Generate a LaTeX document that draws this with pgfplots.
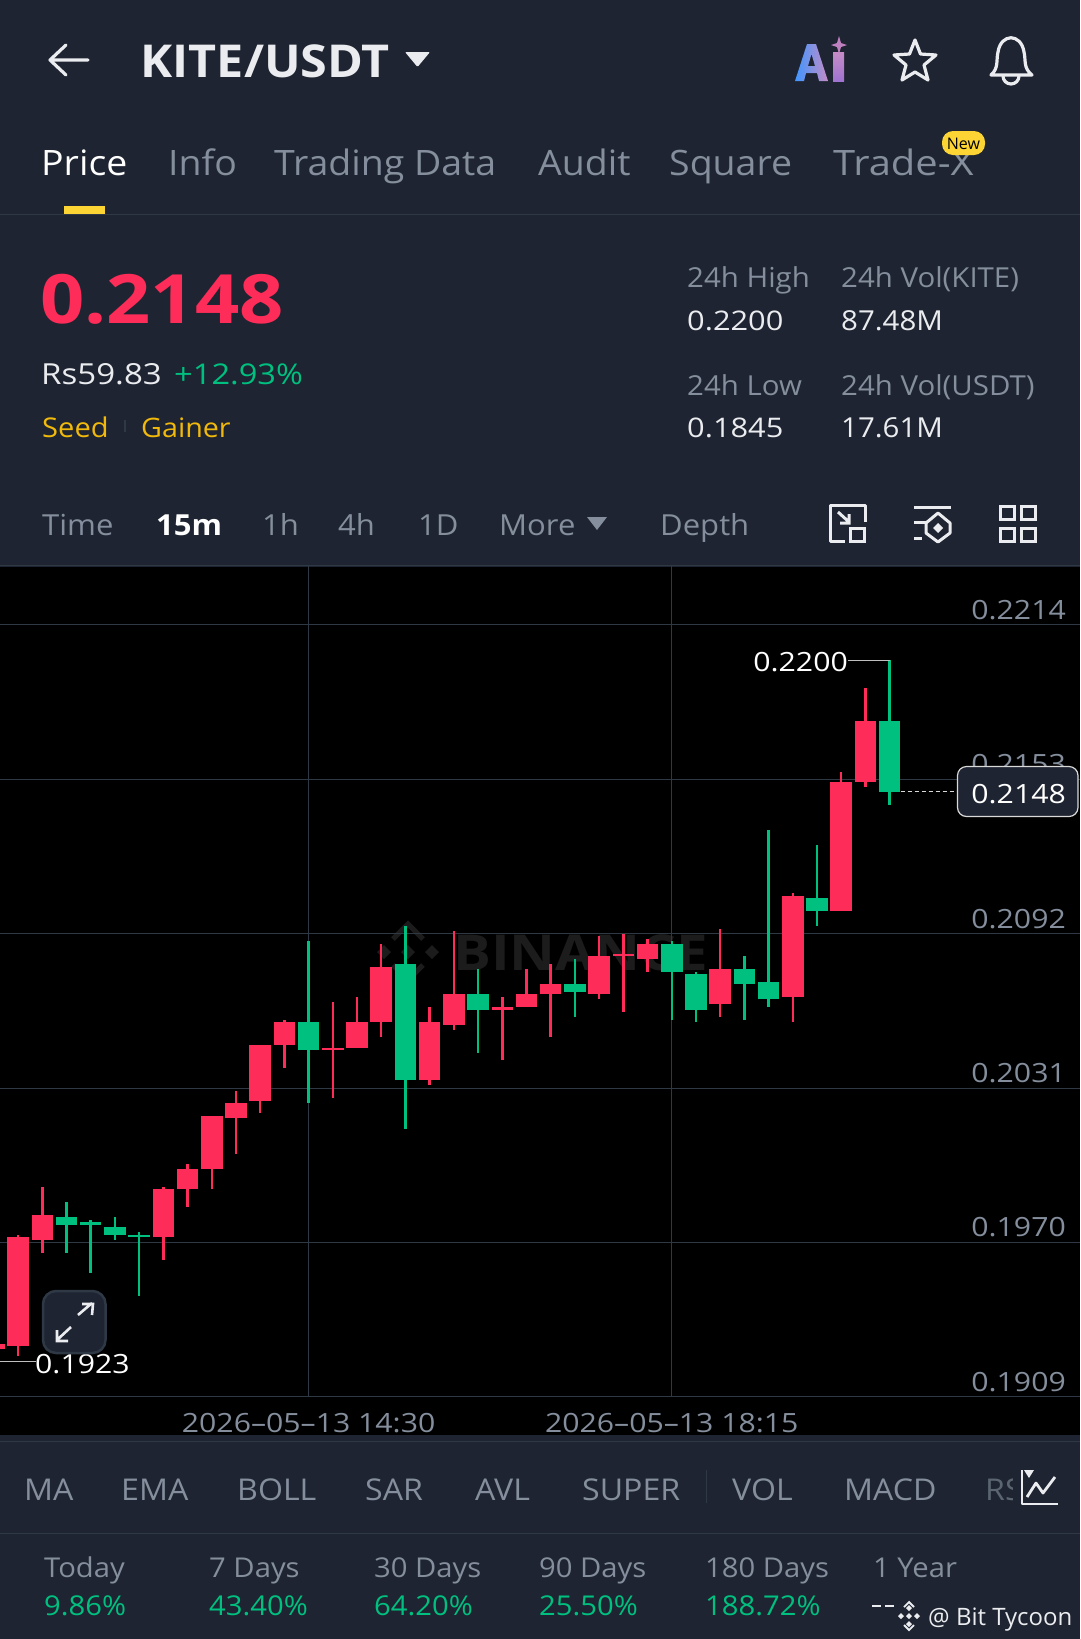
\documentclass[border=0pt]{standalone}
\usepackage{fontspec}
\usepackage{pgfplots}
\usepackage{pgfplotstable}
\pgfplotsset{compat=1.18}
\setmainfont[FakeStretch=1.07]{Open Sans}
\newfontfamily\wide[FakeStretch=1.14]{Open Sans}
\newfontfamily\plain{Open Sans}
\definecolor{bg}{HTML}{1E2431}
\definecolor{gridc}{HTML}{2F3845}
\definecolor{up}{HTML}{FE2C58}
\definecolor{dn}{HTML}{00C07F}
\definecolor{gr}{HTML}{848E9C}
\definecolor{wh}{HTML}{EAECEF}
\definecolor{yl}{HTML}{FCD535}
\definecolor{og}{HTML}{F0B90B}
\definecolor{wm}{HTML}{1C1C1C}
\pgfplotstableread{
x low bot top high
-13 .1928 .1928 .1930 .1930
-12 .1925 .1929 .1972 .1973
-11 .1966 .1971 .1981 .1992
-6 .1963 .1972 .1991 .1992
-5 .1984 .1991 .1999 .2001
-4 .1991 .1999 .2020 .2020
-3 .2005 .2019 .2025 .2030
-2 .2021 .2026 .2048 .2048
-1 .2039 .2048 .2057 .2058
1 .2027 .2046 .2047 .2065
2 .2047 .2047 .2057 .2067
3 .2051 .2057 .2079 .2088
5 .2032 .2034 .2057 .2063
6 .2054 .2056 .2068 .2093
8 .2042 .2062 .2063 .2067
9 .2063 .2063 .2068 .2078
10 .2051 .2068 .2072 .2080
12 .2066 .2068 .2083 .2091
13 .2061 .2083 .2084 .2092
14 .2077 .2082 .2088 .2090
17 .2059 .2064 .2078 .2094
20 .2057 .2067 .2107 .2108
22 .2101 .2101 .2152 .2156
23 .2150 .2152 .2176 .2189
}\redcandles
\pgfplotstableread{
x low bot top high
-10 .1966 .1977 .1980 .1986
-9 .1958 .1977 .1978 .1979
-8 .1971 .1973 .1976 .1980
-7 .1949 .1972 .1973 .1974
0 .2025 .2046 .2057 .2089
4 .2015 .2034 .2080 .2095
7 .2045 .2062 .2068 .2078
11 .2059 .2069 .2072 .2082
15 .2058 .2077 .2088 .2089
16 .2057 .2062 .2076 .2077
18 .2058 .2072 .2078 .2083
19 .2063 .2066 .2073 .2133
21 .2095 .2101 .2106 .2127
24 .2143 .2148 .2176 .2200
}\greencandles
% x y(top-down) anchor size colour text
\newcommand\T[6]{\node[anchor=#3,inner sep=0pt,text=#5,font=\fontsize{#4}{#4}\selectfont] at (#1pt,-#2pt) {#6};}
\newcommand\candles[2]{%
 \addplot[draw=none,mark=none,forget plot,error bars/.cd,y dir=plus,y explicit,error mark=none,
   error bar style={line width=2.5pt,color=#2}] table[x=x,y=low,y error expr=\thisrow{high}-\thisrow{low}] {#1};
 \addplot[draw=none,mark=none,forget plot,error bars/.cd,y dir=plus,y explicit,error mark=none,
   error bar style={line width=21.5pt,color=#2}] table[x=x,y=bot,y error expr=\thisrow{top}-\thisrow{bot}] {#1};
}
\begin{document}
\begin{tikzpicture}[x=1pt,y=1pt]
\path[use as bounding box] (0,0) rectangle (1080,-1639);
\fill[bg] (0,0) rectangle (1080,-1639);
\fill[black] (0,-567) rectangle (1080,-1435);
\draw[gridc,line width=1pt] (0,-214.5)--(1080,-214.5);
\draw[gridc,line width=1pt] (0,-565)--(1080,-565);
\draw[gridc,line width=1pt] (0,-1441)--(1080,-1441);
\draw[gridc,line width=1pt] (0,-1533)--(1080,-1533);
% header
\draw[wh,line width=3.2pt,line cap=round,line join=round] (88,-60)--(50,-60) (66,-45)--(50,-60)--(66,-75);
\T{140.5}{77}{base west}{45.3}{wh}{\bfseries KITE/USDT}
\fill[wh,rounded corners=1pt] (405,-52)--(430,-52)--(417.5,-67)--cycle;
\shade[left color=blue!55!cyan!75!white,right color=violet!45!white,even odd rule]
  (795,-81)--(807,-44)--(816,-44)--(828,-81)--(819,-81)--(817,-73)--(806,-73)--(804,-81)--cycle
  (808,-66)--(815,-66)--(811.5,-54)--cycle;
\shade[top color=violet!45!white,bottom color=blue!35!violet!55!white] (833,-52) rectangle (844,-81);
\fill[violet!50!white] (839,-36)--(841,-43)--(847,-45)--(841,-47)--(839,-54)--(837,-47)--(831,-45)--(837,-43)--cycle;
\draw[wh,line width=3.2pt,line join=round] (915,-40)--(920.5,-54)--(936,-55)--(924,-65)--(928,-80)--(915,-72)--(902,-80)--(906,-65)--(894,-55)--(909.5,-54)--cycle;
\draw[wh,line width=3.2pt,line join=round,line cap=round] (991,-75) .. controls (999,-68) and (996,-60) .. (998,-52) .. controls (1001,-33) and (1021,-33) .. (1024,-52) .. controls (1026,-60) and (1023,-68) .. (1032,-75) -- cycle;
\draw[wh,line width=3.2pt] (1003,-76) arc[start angle=180,end angle=360,radius=8];
% tabs
\T{41}{175.5}{base west}{35}{white}{Price}
\T{168}{175.5}{base west}{35}{gr}{Info}
\T{274}{175.5}{base west}{35}{gr}{Trading Data}
\T{538}{175.5}{base west}{35}{gr}{Audit}
\T{669}{175.5}{base west}{35}{gr}{Square}
\T{833}{175.5}{base west}{35}{gr}{\wide Trade-X}
\fill[yl] (942,-131) [rounded corners=11pt] rectangle (985,-155);
\T{963.5}{149}{base}{16}{black}{\plain New}
\fill[yl] (64,-206) rectangle (105,-214);
% price panel
\T{40}{323.6}{base west}{68}{up}{\wide\bfseries 0.2148}
\T{41}{384.7}{base west}{29}{wh}{\wide Rs59.83}
\T{174}{384.7}{base west}{28.6}{dn}{\wide +12.93\%}
\T{42}{437}{base west}{27.2}{og}{Seed}
\fill[gridc] (124,-420) rectangle (125.5,-432);
\T{141}{437}{base west}{26.8}{og}{Gainer}
\T{687}{287.5}{base west}{27.5}{gr}{24h High}
\T{841}{287.5}{base west}{27.5}{gr}{24h Vol(KITE)}
\T{687}{330}{base west}{27}{wh}{\wide 0.2200}
\T{841}{330}{base west}{27.5}{wh}{87.48M}
\T{687}{395.5}{base west}{27.5}{gr}{24h Low}
\T{841}{395.5}{base west}{27.5}{gr}{24h Vol(USDT)}
\T{687}{437.5}{base west}{27}{wh}{\wide 0.1845}
\T{841}{437.5}{base west}{27.5}{wh}{17.61M}
% interval row
\T{42}{535.5}{base west}{29}{gr}{Time}
\T{156}{535.5}{base west}{29}{white}{\bfseries 15m}
\T{262}{535.5}{base west}{29}{gr}{1h}
\T{338}{535.5}{base west}{29}{gr}{4h}
\T{418}{535.5}{base west}{29}{gr}{1D}
\T{499}{535.5}{base west}{29}{gr}{More}
\fill[gr] (587,-517)--(607,-517)--(597,-530)--cycle;
\T{660}{535.5}{base west}{29}{gr}{Depth}
\draw[wh,line width=3pt,line join=round] (865,-522)--(865,-505)--(830,-505)--(830,-541)--(845,-541);
\draw[wh,line width=3pt] (850,-528) rectangle (864,-541);
\draw[wh,line width=3pt] (838,-512)--(849,-522) (849,-514)--(849,-523)--(840,-523);
\draw[wh,line width=3pt] (914,-507)--(951,-507) (914,-522)--(926,-522) (914,-538)--(922,-538);
\draw[wh,line width=3pt,line join=round] (938,-513)--(950,-523)--(950,-533)--(938,-542)--(926,-533)--(926,-523)--cycle;
\fill[wh] (938,-523)--(943,-528)--(938,-533)--(933,-528)--cycle;
\foreach \xa/\ya in {1000/-506,1021/-506,1000/-528,1021/-528}{\draw[wh,line width=3pt] (\xa,\ya) rectangle ++(14,-13);}
% watermark
\begin{scope}[shift={(408,-952)}]
\foreach \dx/\dy in {-24/0,24/0}{\fill[wm] (\dx,\dy+7)--(\dx+7,\dy)--(\dx,\dy-7)--(\dx-7,\dy)--cycle;}
\fill[wm] (0,7)--(7,0)--(0,-7)--(-7,0)--cycle;
\draw[wm,line width=5pt] (-15,13)--(0,28)--(15,13) (-15,-13)--(0,-28)--(15,-13);
\end{scope}
\T{453}{970}{base west}{49.5}{wm}{\wide\bfseries BINANCE}
% chart
\begin{axis}[
  at={(0pt,-1396.8pt)},anchor=south west,
  scale only axis,width=1080pt,height=830.8pt,
  xmin=-12.747,xmax=31.863,ymin=0.1909,ymax=0.223724,
  axis line style={draw=none},tick style={draw=none},
  grid=major,grid style={gridc,line width=1pt},
  xtick={0,15},xticklabels={2026–05–13 14:30,2026–05–13 18:15},
  ytick={0.1909,0.1970,0.2031,0.2092,0.2153,0.2214},
  yticklabels={0.1909,0.1970,0.2031,0.2092,0.2153,0.2214},
  yticklabel pos=right,
  xticklabel style={anchor=base,inner sep=0pt,yshift=-35.2pt,text=gr,font=\wide\fontsize{26.5}{26.5}\selectfont},
  yticklabel style={anchor=base east,inner sep=0pt,xshift=-14pt,yshift=5.6pt,text=gr,font=\wide\fontsize{26.5}{26.5}\selectfont},
  clip=true,
]
\candles{\redcandles}{up}
\candles{\greencandles}{dn}
\addplot[forget plot,color=white!75!black,line width=1.3pt] coordinates {(22.28,0.2200)(24,0.2200)};
\addplot[forget plot,color=white!75!black,line width=1.3pt] coordinates {(-13,0.1923)(-11.26,0.1923)};
\addplot[forget plot,color=white!85!black,line width=1.2pt,dash pattern=on 4pt off 3pt] coordinates {(24.45,0.2148)(26.8,0.2148)};
\end{axis}
% chart overlays
\T{848}{671}{base east}{26.5}{white}{\wide 0.2200}
\T{35}{1373}{base west}{26.5}{white}{\wide 0.1923}
\draw[white!85!black,line width=1.2pt,fill=bg,rounded corners=9pt] (957.5,-766.5) rectangle (1078,-816.5);
\T{1066}{803.5}{base east}{26.5}{white}{\wide 0.2148}
\draw[gridc,line width=2.5pt,fill=bg,rounded corners=13pt] (43,-1291) rectangle (105.5,-1353);
\draw[wh,line width=2.6pt] (78,-1315)--(92,-1303) (82,-1304)--(93,-1304)--(92,-1315) (71,-1327)--(57,-1340) (57,-1330)--(57,-1341)--(68,-1341);
% indicators
\T{24}{1500}{base west}{30}{gr}{MA}
\T{121}{1500}{base west}{30}{gr}{EMA}
\T{237}{1500}{base west}{30}{gr}{BOLL}
\T{365}{1500}{base west}{30}{gr}{SAR}
\T{475}{1500}{base west}{30}{gr}{AVL}
\T{582}{1500}{base west}{30}{gr}{SUPER}
\fill[gridc] (706,-1470) rectangle (707,-1503);
\T{732}{1500}{base west}{30}{gr}{VOL}
\T{844}{1500}{base west}{30}{gr}{MACD}
\T{985}{1500}{base west}{30}{gr!60!bg}{RS}
\fill[bg] (1013,-1460) rectangle (1080,-1510);
\draw[wh,line width=2.8pt,line join=round] (1022,-1470)--(1022,-1504)--(1058,-1504);
\draw[wh,line width=2.8pt,line join=round] (1027,-1497)--(1036,-1483)--(1043,-1493)--(1055,-1477);
\fill[wh] (1024,-1470)--(1034,-1470)--(1029,-1478)--cycle;
% changes
\foreach \xx/\aa/\bb in {44/Today/9.86\%,209/7 Days/43.40\%,374/30 Days/64.20\%,539/90 Days/25.50\%,705/180 Days/188.72\%}{%
 \T{\xx}{1577}{base west}{27.3}{gr}{\aa}
 \T{\xx}{1615}{base west}{27.3}{dn}{\bb}
}
\T{873}{1577}{base west}{27.3}{gr}{1 Year}
\draw[wh,line width=2pt] (872,-1606)--(881,-1606) (885,-1606)--(894,-1606);
\begin{scope}[shift={(909,-1616)}]
\foreach \dx/\dy in {0/0,-8/0,8/0,0/8,0/-8}{\fill[wh] (\dx,\dy+3)--(\dx+3,\dy)--(\dx,\dy-3)--(\dx-3,\dy)--cycle;}
\draw[wh,line width=1.8pt] (-5,9)--(0,14)--(5,9) (-5,-9)--(0,-14)--(5,-9);
\end{scope}
\T{928}{1625}{base west}{24}{wh}{\plain @ Bit Tycoon}
\end{tikzpicture}
\end{document}
